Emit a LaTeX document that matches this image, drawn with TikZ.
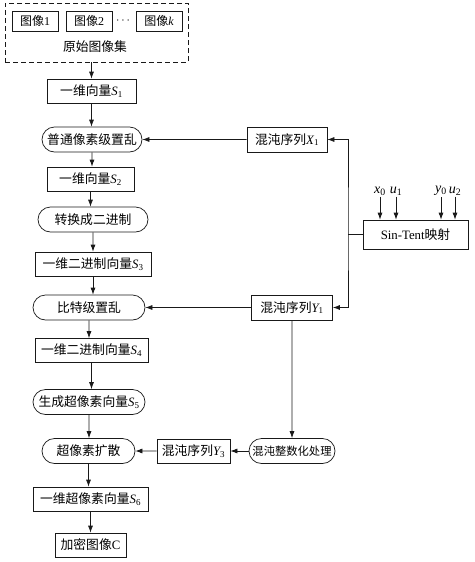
\documentclass[tikz,border=0pt]{standalone}
\usepackage{fontspec}
\setmainfont{Noto Sans CJK SC}
\newfontfamily\lat{Liberation Serif}
\usetikzlibrary{shapes.misc, arrows.meta}
\newcommand{\vsub}[2]{{\lat\itshape #1}\textsubscript{\lat #2}}
\tikzset{
	>={Latex[length=7pt, width=5pt]}, % filled arrow heads
	box/.style={draw, rectangle, minimum height=24pt, inner sep=2pt}, % plain steps
	pill/.style={draw, rounded rectangle, minimum height=25pt, inner sep=2pt}, % operations
	imgbox/.style={draw, rectangle, minimum width=46pt, minimum height=20pt, inner sep=1pt, font=\fontsize{12}{14}\selectfont},
	var/.style={inner sep=1pt, font=\lat\itshape\fontsize{14}{16}\selectfont},
}
\begin{document}
\begin{tikzpicture}[x=1pt, y=-1pt, font=\fontsize{12.8}{15}\selectfont, line width=0.7pt, draw=black!90]
	\useasboundingbox (0,0) rectangle (474,562);

	% Input image set
	\node[draw, dash pattern=on 5pt off 3pt, minimum width=183pt, minimum height=59pt] (set) at (96.5,32.5) {};
	\node[imgbox] (img1) at (35,21) {图像{\lat 1}};
	\node[imgbox] (img2) at (89,21) {图像{\lat 2}};
	\node (dots) at (123,21) {$\cdots$};
	\node[imgbox] (imgk) at (159,21) {图像{\lat\itshape k}};
	\node (setname) at (95,47) {原始图像集};

	% Main column
	\node[box, minimum width=89pt] (s1) at (91.5,91) {一维向量\vsub{S}{1}};
	\node[pill, minimum width=104pt] (p1) at (92,139.5) {普通像素级置乱};
	\node[box, minimum width=87pt] (s2) at (90.5,179) {一维向量\vsub{S}{2}};
	\node[pill, minimum width=114pt] (bin) at (93,219.5) {转换成二进制};
	\node[box, minimum width=116pt] (s3) at (93,264) {一维二进制向量\vsub{S}{3}};
	\node[pill, minimum width=116pt] (bit) at (89,307.5) {比特级置乱};
	\node[box, minimum width=113pt] (s4) at (91.5,350.5) {一维二进制向量\vsub{S}{4}};
	\node[pill, minimum width=116pt] (s5) at (89,402) {生成超像素向量\vsub{S}{5}};
	\node[pill, minimum width=97pt] (diff) at (88.5,451) {超像素扩散};
	\node[box, minimum width=115pt] (s6) at (90.5,499) {一维超像素向量\vsub{S}{6}};
	\node[box, minimum width=71pt] (enc) at (90.5,545) {加密图像{\lat C}};

	% Chaotic side
	\node[box, minimum width=80pt, minimum height=25pt] (x1) at (287,139.5) {混沌序列\vsub{X}{1}};
	\node[box, minimum width=105pt, minimum height=29pt] (map) at (415.5,234.5) {{\lat Sin-Tent}映射};
	\node[box, minimum width=81pt, minimum height=25pt] (y1) at (292,307.5) {混沌序列\vsub{Y}{1}};
	\node[pill, minimum width=88pt, inner xsep=1pt, font=\fontsize{11.3}{13}\selectfont] (int) at (292,451) {混沌整数化处理};
	\node[box, minimum width=73pt] (y3) at (193.5,451) {混沌序列\vsub{Y}{3}};
	\coordinate (jn) at (348,234.5);

	% Map parameters
	\node[var] (x0) at (380,191) {x\textsubscript{\upshape 0}};
	\node[var] (u1) at (396,191) {u\textsubscript{\upshape 1}};
	\node[var] (y0) at (441,191) {y\textsubscript{\upshape 0}};
	\node[var] (u2) at (455,191) {u\textsubscript{\upshape 2}};

	% Transitions
	\draw[->] (set.south -| s1.north) -- (s1);
	\foreach \a/\b in {s1/p1, p1/s2, s2/bin, bin/s3, s3/bit, bit/s4, s4/s5, s5/diff, diff/s6, s6/enc}
		\draw[->] (\a) -- (\a |- \b.north);
	\foreach \v in {x0, u1, y0, u2}
		\draw[->] (\v) -- (\v |- map.north);
	\draw[<->] (x1.east) -| (jn) |- (y1.east);
	\draw (map.west) -- (jn);
	\draw[->] (x1) -- (p1);
	\draw[->] (y1) -- (bit);
	\draw[->] (y1) -- (int);
	\draw[->] (int) -- (y3);
	\draw[->] (y3) -- (diff);
\end{tikzpicture}
\end{document}
